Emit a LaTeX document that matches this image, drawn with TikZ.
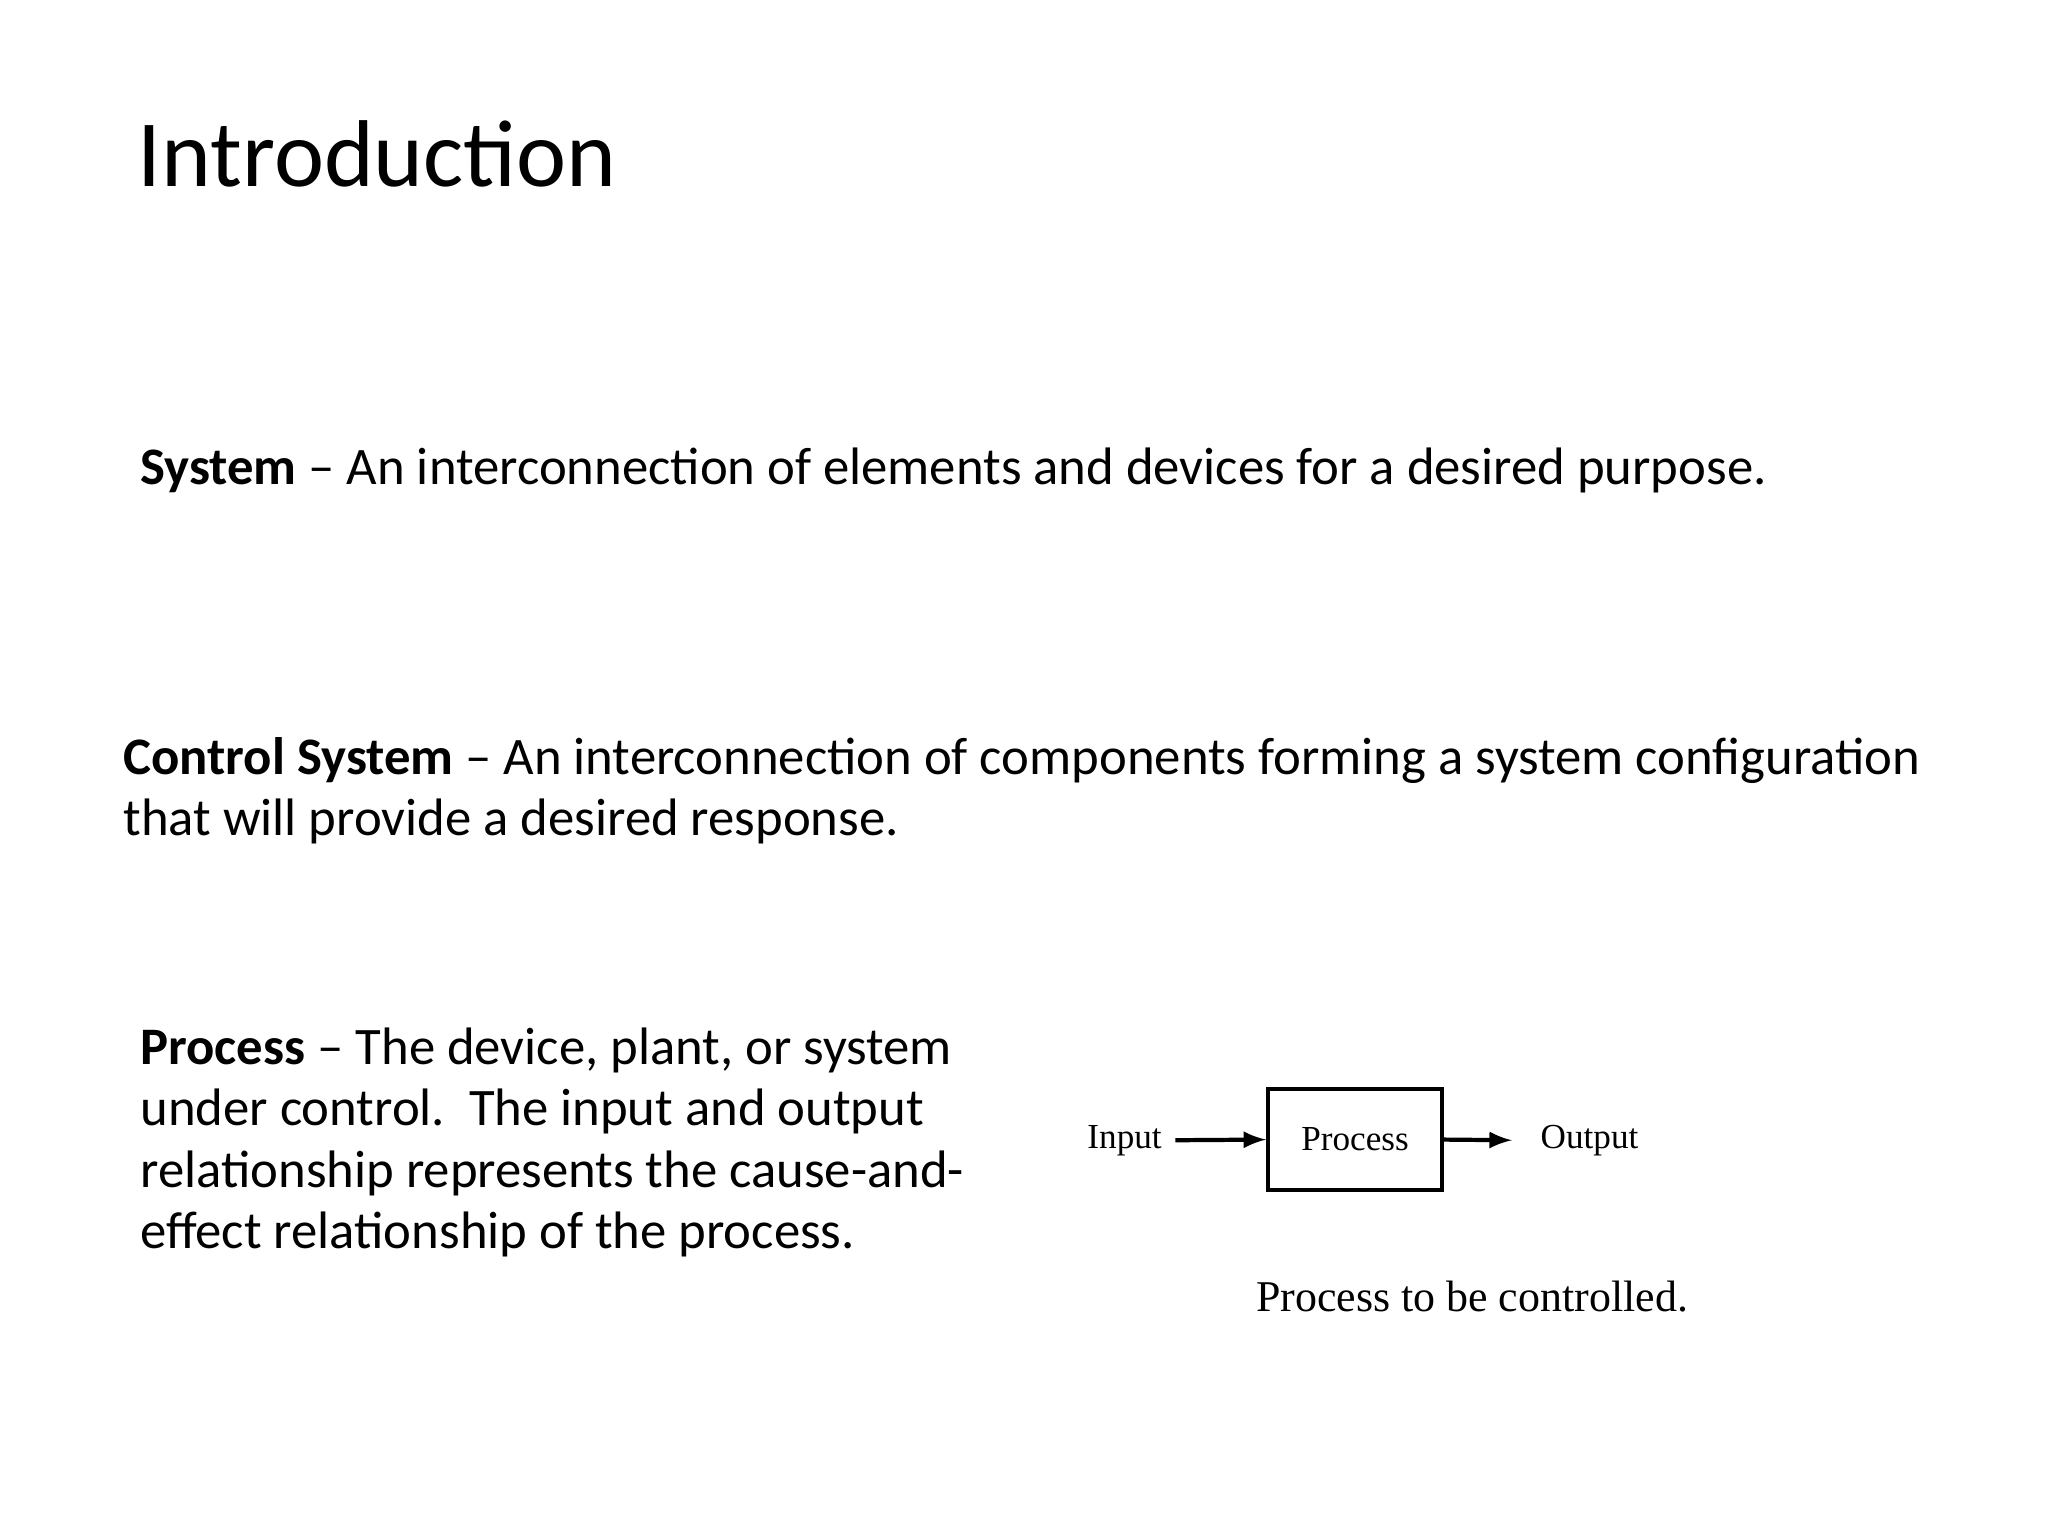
\documentclass[tikz,border=0pt]{standalone}
\usepackage{fontspec}
\setmainfont{Carlito}
\newfontfamily\tms{Liberation Serif}
\begin{document}
\begin{tikzpicture}[x=0.013061cm,y=-0.013061cm,
  txt/.style={anchor=base west,inner sep=0pt,font=\fontsize{15}{18}\selectfont},
  dtxt/.style={inner sep=0pt,font=\tms\fontsize{10}{12}\selectfont},
  arr/.style={-latex,line width=1.2pt}]
\useasboundingbox (0,0) rectangle (1568,1176);
\node[anchor=base west,inner sep=0pt,font=\fontsize{27}{32}\selectfont] (title) at (105,143) {Introduction};
\node[txt] (sys) at (107,371) {\textbf{System} – An interconnection of elements and devices for a desired purpose.};
\node[txt] (cs1) at (94,593) {\textbf{Control System} – An interconnection of components forming a system configuration};
\node[txt] (cs2) at (94,640) {that will provide a desired response.};
\node[txt] (p1) at (107,815) {\textbf{Process} – The device, plant, or system};
\node[txt] (p2) at (107,862) {under control.\ \ The input and output};
\node[txt] (p3) at (107,909) {relationship represents the cause-and-};
\node[txt] (p4) at (107,956) {effect relationship of the process.};
\node[draw,line width=1.2pt,minimum width=133*0.013061cm,minimum height=77*0.013061cm,dtxt] (proc) at (1037.5,872.5) {Process};
\node[dtxt] (in) at (861,873) {Input};
\node[dtxt] (out) at (1217,873) {Output};
\draw[arr] (in.east)++(10,0) -- (proc.west);
\draw[arr] (proc.east) -- ([xshift=-8]out.west);
\node[inner sep=0pt,font=\tms\fontsize{12.5}{15}\selectfont] (cap) at (1127,993) {Process to be controlled.};
\end{tikzpicture}
\end{document}
